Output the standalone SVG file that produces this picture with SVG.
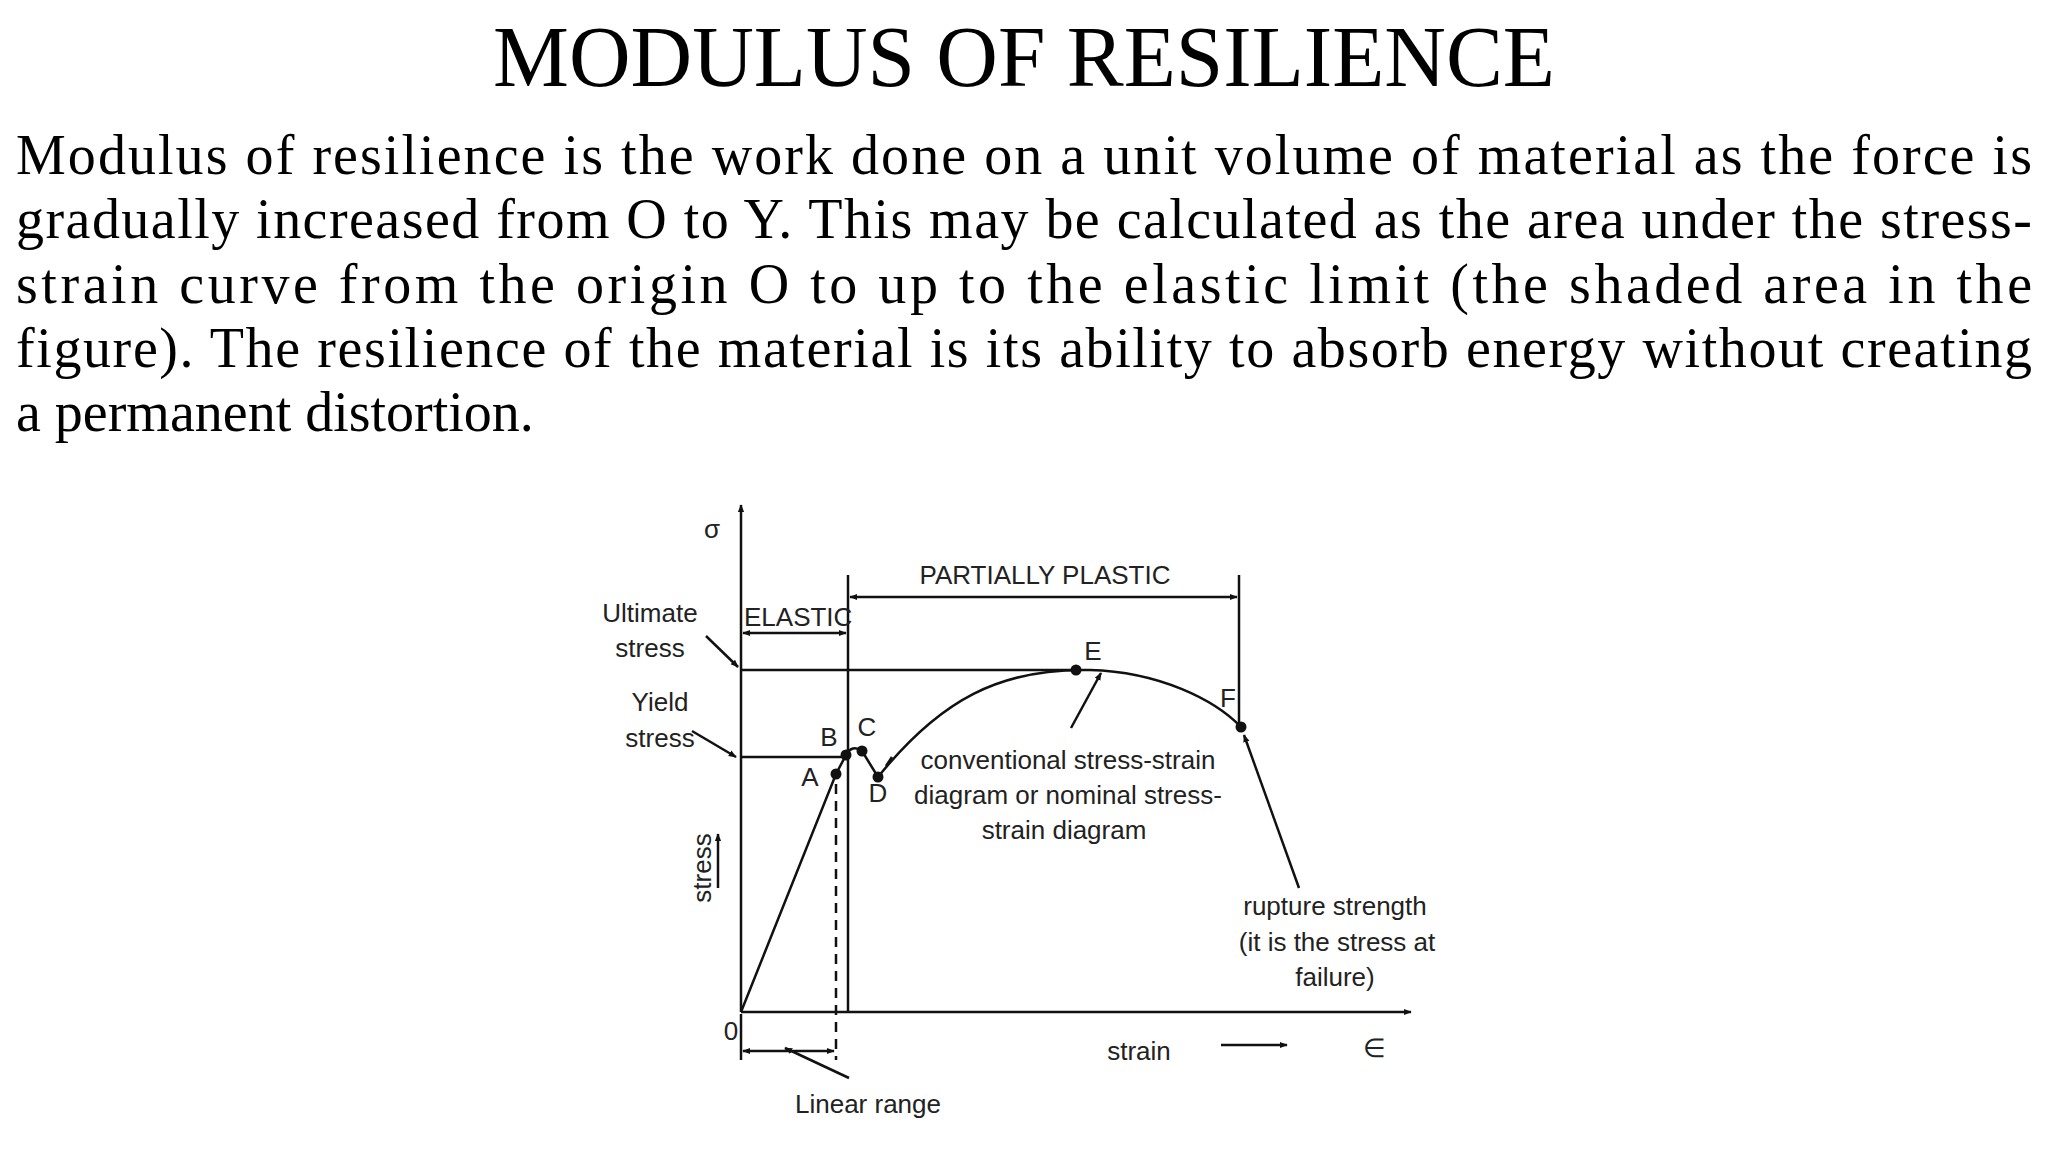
<svg xmlns="http://www.w3.org/2000/svg" width="2048" height="1152" viewBox="0 0 2048 1152">
<style>
.t{font-family:"Liberation Serif",serif;fill:#000}
.l{font-family:"Liberation Sans",Arial,sans-serif;fill:#222;font-size:26px}
.ln{stroke:#111;stroke-width:2.5;fill:none}
.dot{fill:#111}
</style>
<defs>
<marker id="ah" viewBox="0 0 10 10" refX="9" refY="5" markerWidth="8" markerHeight="8" orient="auto-start-reverse" markerUnits="userSpaceOnUse"><path d="M0,1 L10,5 L0,9 Z" fill="#111"/></marker>
</defs>
<rect width="2048" height="1152" fill="#fff"/>
<text class="t" x="1024" y="86" font-size="86" text-anchor="middle" textLength="1062" lengthAdjust="spacingAndGlyphs">MODULUS OF RESILIENCE</text>
<g class="t" font-size="56">
<text x="16" y="174" textLength="2016" lengthAdjust="spacing">Modulus of resilience is the work done on a unit volume of material as the force is</text>
<text x="16" y="238" textLength="2016" lengthAdjust="spacing">gradually increased from O to Y. This may be calculated as the area under the stress-</text>
<text x="16" y="303" textLength="2016" lengthAdjust="spacing">strain curve from the origin O to up to the elastic limit (the shaded area in the</text>
<text x="16" y="367" textLength="2016" lengthAdjust="spacing">figure). The resilience of the material is its ability to absorb energy without creating</text>
<text x="16" y="431">a permanent distortion.</text>
</g>
<g id="axes">
<line class="ln" x1="741" y1="1012" x2="741" y2="505" marker-end="url(#ah)"/>
<line class="ln" x1="741" y1="1012" x2="1411" y2="1012" marker-end="url(#ah)"/>
<text class="l" x="712" y="538" font-size="30" text-anchor="middle">σ</text>
<text class="l" x="731" y="1040" text-anchor="middle">0</text>
<text class="l" x="1139" y="1060" text-anchor="middle">strain</text>
<text class="l" x="1374" y="1057" font-size="32" text-anchor="middle">∈</text>
<text class="l" transform="translate(711,868) rotate(-90)" text-anchor="middle">stress</text>
</g>
<g id="connectors">
<line class="ln" x1="1221" y1="1045" x2="1287" y2="1045" marker-end="url(#ah)"/>
<line class="ln" x1="718" y1="888" x2="718" y2="834" marker-end="url(#ah)"/>
<line class="ln" x1="848" y1="575" x2="848" y2="1012"/>
<line class="ln" x1="1239" y1="575" x2="1239" y2="727"/>
<line class="ln" x1="743" y1="633" x2="846" y2="633" marker-start="url(#ah)" marker-end="url(#ah)"/>
<line class="ln" x1="850" y1="597" x2="1237" y2="597" marker-start="url(#ah)" marker-end="url(#ah)"/>
<line class="ln" x1="741" y1="670" x2="1077" y2="670"/>
<line class="ln" x1="741" y1="757" x2="846" y2="757"/>
<line class="ln" x1="836" y1="784" x2="836" y2="1060" stroke-dasharray="10,7"/>
<line class="ln" x1="741" y1="1014" x2="741" y2="1060"/>
<line class="ln" x1="743" y1="1051" x2="834" y2="1051" marker-start="url(#ah)" marker-end="url(#ah)"/>
<line class="ln" x1="849" y1="1078" x2="785" y2="1048" marker-end="url(#ah)"/>
<line class="ln" x1="706" y1="636" x2="738" y2="667" marker-end="url(#ah)"/>
<line class="ln" x1="692" y1="731" x2="736" y2="757" marker-end="url(#ah)"/>
<line class="ln" x1="1071" y1="728" x2="1101" y2="673" marker-end="url(#ah)"/>
<line class="ln" x1="1299" y1="888" x2="1244" y2="735" marker-end="url(#ah)"/>
<path class="ln" d="M886,766 L892,757"/>
</g>
<g id="curve">
<path class="ln" d="M741,1012 L836,774 L846,755 Q852,744 862,751 L878,777 C940,700 1000,668 1090,670 C1160,672 1215,700 1241,727"/>
<circle class="dot" cx="836" cy="774" r="5.5"/>
<circle class="dot" cx="846" cy="755" r="5.5"/>
<circle class="dot" cx="862" cy="751" r="5.5"/>
<circle class="dot" cx="878" cy="777" r="5.5"/>
<circle class="dot" cx="1076" cy="670" r="5.5"/>
<circle class="dot" cx="1241" cy="727" r="5.5"/>
</g>
<g id="labels">
<text class="l" x="810" y="786" text-anchor="middle">A</text>
<text class="l" x="829" y="746" text-anchor="middle">B</text>
<text class="l" x="867" y="736" text-anchor="middle">C</text>
<text class="l" x="878" y="802" text-anchor="middle">D</text>
<text class="l" x="1093" y="660" text-anchor="middle">E</text>
<text class="l" x="1228" y="707" text-anchor="middle">F</text>
<text class="l" x="744" y="626" font-size="27">ELASTIC</text>
<text class="l" x="1045" y="584" font-size="28" text-anchor="middle">PARTIALLY PLASTIC</text>
<text class="l" x="650" y="622" text-anchor="middle">Ultimate</text>
<text class="l" x="650" y="657" text-anchor="middle">stress</text>
<text class="l" x="660" y="711" text-anchor="middle">Yield</text>
<text class="l" x="660" y="747" text-anchor="middle">stress</text>
<text class="l" x="1068" y="769" text-anchor="middle">conventional stress-strain</text>
<text class="l" x="1068" y="804" text-anchor="middle">diagram or nominal stress-</text>
<text class="l" x="1064" y="839" text-anchor="middle">strain diagram</text>
<text class="l" x="1335" y="915" text-anchor="middle">rupture strength</text>
<text class="l" x="1337" y="951" text-anchor="middle">(it is the stress at</text>
<text class="l" x="1335" y="986" text-anchor="middle">failure)</text>
<text class="l" x="868" y="1113" text-anchor="middle">Linear range</text>
</g>
</svg>
